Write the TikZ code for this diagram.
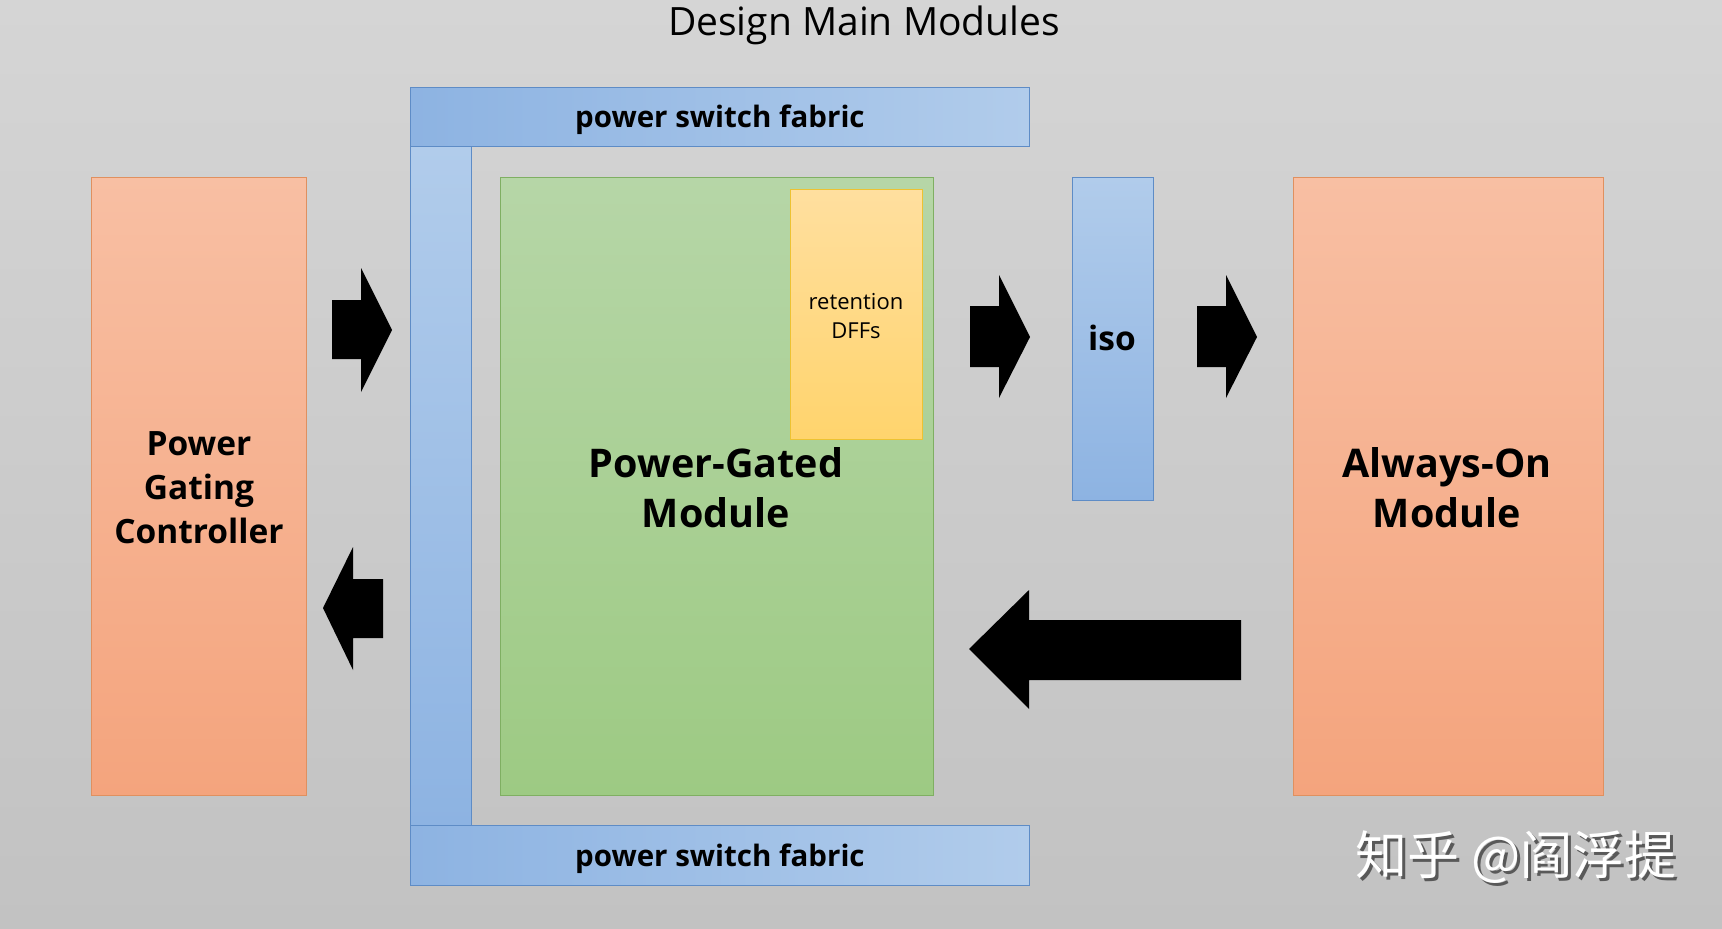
\documentclass[tikz,border=0pt]{standalone}
\usepackage{fontspec}
\setmainfont{Open Sans}
\newfontfamily\cjk{Noto Sans CJK SC}
\definecolor{bgtop}{HTML}{D5D5D5}
\definecolor{bgbot}{HTML}{C2C2C2}
\definecolor{ortop}{HTML}{F8BFA3}
\definecolor{orbot}{HTML}{F4A47D}
\definecolor{orline}{HTML}{E0905F}
\definecolor{grtop}{HTML}{B6D6A7}
\definecolor{grbot}{HTML}{9DCA83}
\definecolor{grline}{HTML}{7FAF62}
\definecolor{bllight}{HTML}{B1CCEB}
\definecolor{bldark}{HTML}{8DB3E2}
\definecolor{blline}{HTML}{5E8CC6}
\definecolor{yetop}{HTML}{FFDF9F}
\definecolor{yebot}{HTML}{FFD46D}
\definecolor{yeline}{HTML}{EDC232}
\begin{document}
\begin{tikzpicture}[x=1pt,y=-1pt,
  box/.style={draw, line width=0.9pt, inner sep=0pt, align=center, text=black},
  orbox/.style={box, draw=orline, top color=ortop, bottom color=orbot},
  grbox/.style={box, draw=grline, top color=grtop, bottom color=grbot},
  blhbox/.style={box, draw=blline, left color=bldark, right color=bllight},
  blvbox/.style={box, draw=blline, top color=bllight, bottom color=bldark},
  yebox/.style={box, draw=yeline, top color=yetop, bottom color=yebot},
  bigtxt/.style={font=\fontsize{39.5}{50}\selectfont\bfseries},
  midtxt/.style={font=\fontsize{33.5}{44}\selectfont\bfseries},
  psftxt/.style={font=\fontsize{29.5}{34}\selectfont\bfseries},
  blockarrow/.style={fill=black}
]
\useasboundingbox (0,0) rectangle (1722,929);
\fill[top color=bgtop, bottom color=bgbot] (0,0) rectangle (1722,929);

\node[font=\fontsize{39}{44}\selectfont] (title) at (864,25) {Design Main Modules};

% power switch fabric
\node[blvbox, minimum width=61, minimum height=679, anchor=north west] (vbar) at (410,146) {};
\node[blhbox, minimum width=619, minimum height=59, anchor=north west] (psftop) at (410,87) {};
\node[psftxt] at ([yshift=-3]psftop.center) {power switch fabric};
\node[blhbox, minimum width=619, minimum height=60, anchor=north west] (psfbot) at (410,825) {};
\node[psftxt] at ([yshift=-3]psfbot.center) {power switch fabric};

% controller
\node[orbox, minimum width=215, minimum height=618, anchor=north west] (pgc) at (91,177) {};
\node[midtxt, align=center] at (199,488) {Power\\Gating\\Controller};

% power gated module
\node[grbox, minimum width=433, minimum height=618, anchor=north west] (pgm) at (500,177) {};
\node[bigtxt, align=center] at (716,488) {Power-Gated\\Module};
\node[yebox, minimum width=132, minimum height=250, anchor=north west] (ret) at (790,189) {};
\node[font=\fontsize{22}{29}\selectfont, align=center] at (856,316) {retention\\DFFs};

% iso
\node[blvbox, minimum width=81, minimum height=323, anchor=north west] (iso) at (1072,177) {};
\node[midtxt] at (1112,338) {iso};

% always on
\node[orbox, minimum width=310, minimum height=618, anchor=north west] (aon) at (1293,177) {};
\node[bigtxt, align=center] at (1447,488) {Always-On\\Module};

% block arrows
\fill[blockarrow] (332,300) -- (361,300) -- (361,268) -- (392,330) -- (361,392) -- (361,359) -- (332,359) -- cycle;
\fill[blockarrow] (383,579) -- (353,579) -- (353,547) -- (323,608) -- (353,670) -- (353,638) -- (383,638) -- cycle;
\fill[blockarrow] (970,306) -- (999,306) -- (999,275) -- (1030,337) -- (999,398) -- (999,367) -- (970,367) -- cycle;
\fill[blockarrow] (1197,306) -- (1226,306) -- (1226,275) -- (1257,337) -- (1226,398) -- (1226,367) -- (1197,367) -- cycle;
\fill[blockarrow] (1241,620) -- (1029,620) -- (1029,590) -- (969,649) -- (1029,709) -- (1029,680) -- (1241,680) -- cycle;

% watermark
\node[font=\cjk\fontsize{52}{60}\selectfont, text=gray!70!black] at (1519,860) {知乎 @阎浮提};
\node[font=\cjk\fontsize{52}{60}\selectfont, text=white] (wm) at (1516,857) {知乎 @阎浮提};
\end{tikzpicture}
\end{document}
